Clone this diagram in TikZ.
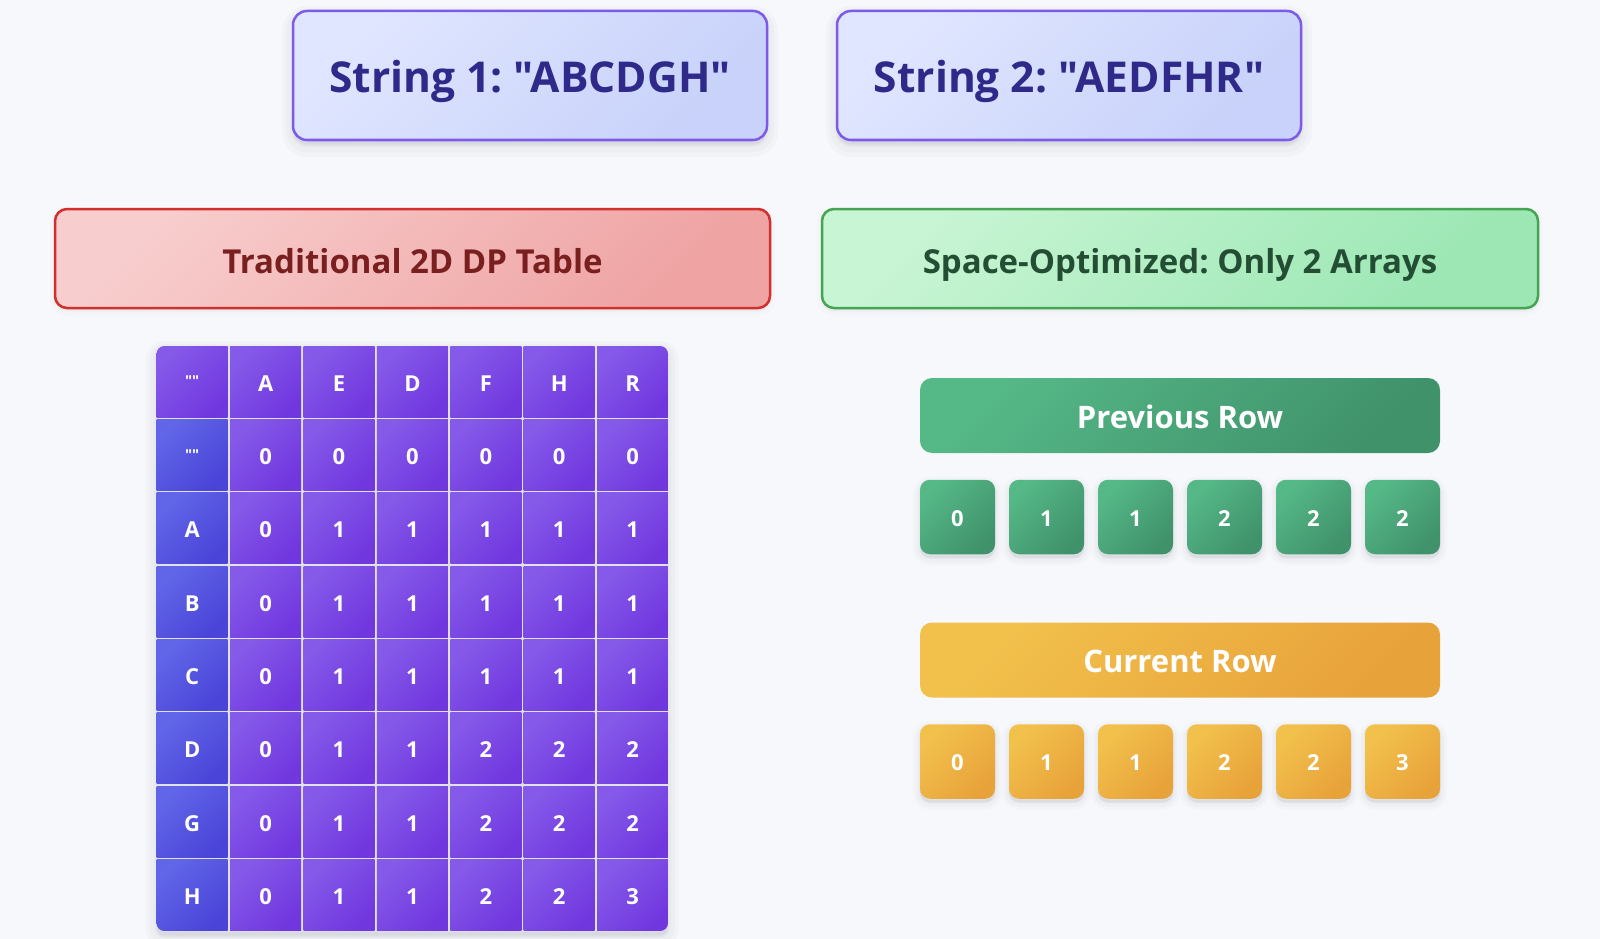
\documentclass[tikz,border=0pt]{standalone}
\usepackage{fontspec}
\setmainfont{Open Sans}[Ligatures=TeXOff]
\definecolor{bg}{HTML}{F7F8FB}
\definecolor{strA}{HTML}{E0E6FF}
\definecolor{strB}{HTML}{C8D2FA}
\definecolor{strLine}{HTML}{7D5AE8}
\definecolor{strText}{HTML}{2F2A8A}
\definecolor{redA}{HTML}{F8CDCD}
\definecolor{redB}{HTML}{EFA3A3}
\definecolor{redLine}{HTML}{D1302C}
\definecolor{redText}{HTML}{7A1F1F}
\definecolor{grnA}{HTML}{C8F5D4}
\definecolor{grnB}{HTML}{9CE7B4}
\definecolor{grnLine}{HTML}{46A553}
\definecolor{grnText}{HTML}{234E33}
\definecolor{purA}{HTML}{855AE9}
\definecolor{purB}{HTML}{7137DF}
\definecolor{bluA}{HTML}{6166E8}
\definecolor{bluB}{HTML}{4A44D8}
\definecolor{gapC}{HTML}{E0E2EB}
\definecolor{gA}{HTML}{55B887}
\definecolor{gB}{HTML}{40926B}
\definecolor{oA}{HTML}{F2C14C}
\definecolor{oB}{HTML}{E8A23A}
\definecolor{shC}{HTML}{1E2340}
\tikzset{
  shlayer/.style n args={3}{preaction={draw=shC, fill=shC, line width=#1, line join=round,
      draw opacity=#2, fill opacity=#2, transform canvas={yshift=#3}}},
  bigshadow/.style={shlayer={22pt}{0.018}{-6pt}, shlayer={14pt}{0.022}{-5pt}, shlayer={6pt}{0.025}{-4pt}},
  smallshadow/.style={shlayer={14pt}{0.016}{-4pt}, shlayer={8pt}{0.022}{-4pt}, shlayer={3pt}{0.025}{-3pt}},
  tinyshadow/.style={shlayer={10pt}{0.012}{-3pt}, shlayer={4pt}{0.018}{-2pt}},
  strbox/.style={rectangle, rounded corners=14pt, line width=2.5pt, draw=strLine,
    top color=strA, bottom color=strB, shading angle=45, bigshadow,
    text=strText, font=\fontsize{42.5}{50}\selectfont\bfseries, inner sep=0pt,
    text height=36pt, text depth=1pt},
  titlebox/.style={rectangle, rounded corners=12pt, line width=2.5pt, inner sep=0pt,
    font=\fontsize{33}{40}\selectfont\bfseries, text height=31pt, text depth=1pt, tinyshadow},
  redbox/.style={titlebox, draw=redLine, top color=redA, bottom color=redB, shading angle=45, text=redText},
  grnbox/.style={titlebox, draw=grnLine, top color=grnA, bottom color=grnB, shading angle=45, text=grnText},
  tcell/.style={rectangle, anchor=north west, inner sep=0pt, minimum width=71pt, minimum height=71pt,
    text=white, font=\fontsize{22}{26}\selectfont\bfseries, text height=19.5pt, text depth=0.5pt},
  datacell/.style={tcell, top color=purA, bottom color=purB, shading angle=45},
  headcell/.style={tcell, top color=bluA, bottom color=bluB, shading angle=45},
  arrhead/.style={rectangle, rounded corners=12pt, inner sep=0pt, minimum width=520pt, minimum height=75pt,
    text=white, font=\fontsize{31}{38}\selectfont\bfseries, text height=27pt, text depth=1.2pt},
  arrcell/.style={rectangle, rounded corners=10pt, inner sep=0pt, minimum width=75pt, minimum height=74.5pt,
    text=white, font=\fontsize{22}{26}\selectfont\bfseries, text height=19pt, text depth=0.6pt, smallshadow},
  prevhead/.style={arrhead, top color=gA, bottom color=gB, shading angle=45},
  currhead/.style={arrhead, top color=oA, bottom color=oB, shading angle=45},
  prevcell/.style={arrcell, top color=gA, bottom color=gB, shading angle=45},
  currcell/.style={arrcell, top color=oA, bottom color=oB, shading angle=45},
}
\begin{document}
\frenchspacing
\begin{tikzpicture}[x=1pt,y=-1pt]
\useasboundingbox (0,0) rectangle (1600,939);
\fill[bg] (0,0) rectangle (1600,939);

% string boxes
\node[strbox, minimum width=474pt, minimum height=129pt] (s1) at (530,75.5) {String 1: "ABCDGH"};
\node[strbox, minimum width=464pt, minimum height=129pt] (s2) at (1069,75.5) {String 2: "AEDFHR"};

% section titles
\node[redbox, minimum width=715pt, minimum height=99pt] (trad) at (412.5,258.5) {Traditional 2D DP Table};
\node[grnbox, minimum width=716pt, minimum height=99pt] (space) at (1180,258.5) {Space-Optimized: Only 2 Arrays};

% DP table
\path[fill=gapC, rounded corners=8pt, bigshadow] (156.5,346) rectangle (668,931);
\begin{scope}
\clip[rounded corners=8pt] (156.5,346) rectangle (668,931);
\foreach \line [count=\r from 0] in {
  {Q,A,E,D,F,H,R},
  {Q,0,0,0,0,0,0},
  {A,0,1,1,1,1,1},
  {B,0,1,1,1,1,1},
  {C,0,1,1,1,1,1},
  {D,0,1,1,2,2,2},
  {G,0,1,1,2,2,2},
  {H,0,1,1,2,2,3}} {
  \foreach \v [count=\c from 0] in \line {
    \pgfmathsetmacro\xx{156.5+\c*73.4}
    \pgfmathsetmacro\yy{346+\r*73.3}
    \pgfmathtruncatemacro\isrh{(\r>0)&&(\c==0)}
    \pgfmathtruncatemacro\isq{(\c==0)&&(\r<2)}
    \ifnum\isrh=1 \def\cst{headcell}\else\def\cst{datacell}\fi
    \node[\cst] (t-\r-\c) at (\xx,\yy)
      {\ifnum\isq=1 \raisebox{4.4pt}{\fontsize{15}{15}\selectfont""}\else\v\fi};
  }
}
\end{scope}

% previous row
\node[prevhead] (prev) at (1180,415.5) {Previous Row};
\foreach \v [count=\i from 0] in {0,1,1,2,2,2} {
  \node[prevcell] (p-\i) at ({957.5+\i*89},517) {\v};
}
% current row
\node[currhead] (curr) at (1180,660) {Current Row};
\foreach \v [count=\i from 0] in {0,1,1,2,2,3} {
  \node[currcell] (c-\i) at ({957.5+\i*89},761.5) {\v};
}
\end{tikzpicture}
\end{document}
